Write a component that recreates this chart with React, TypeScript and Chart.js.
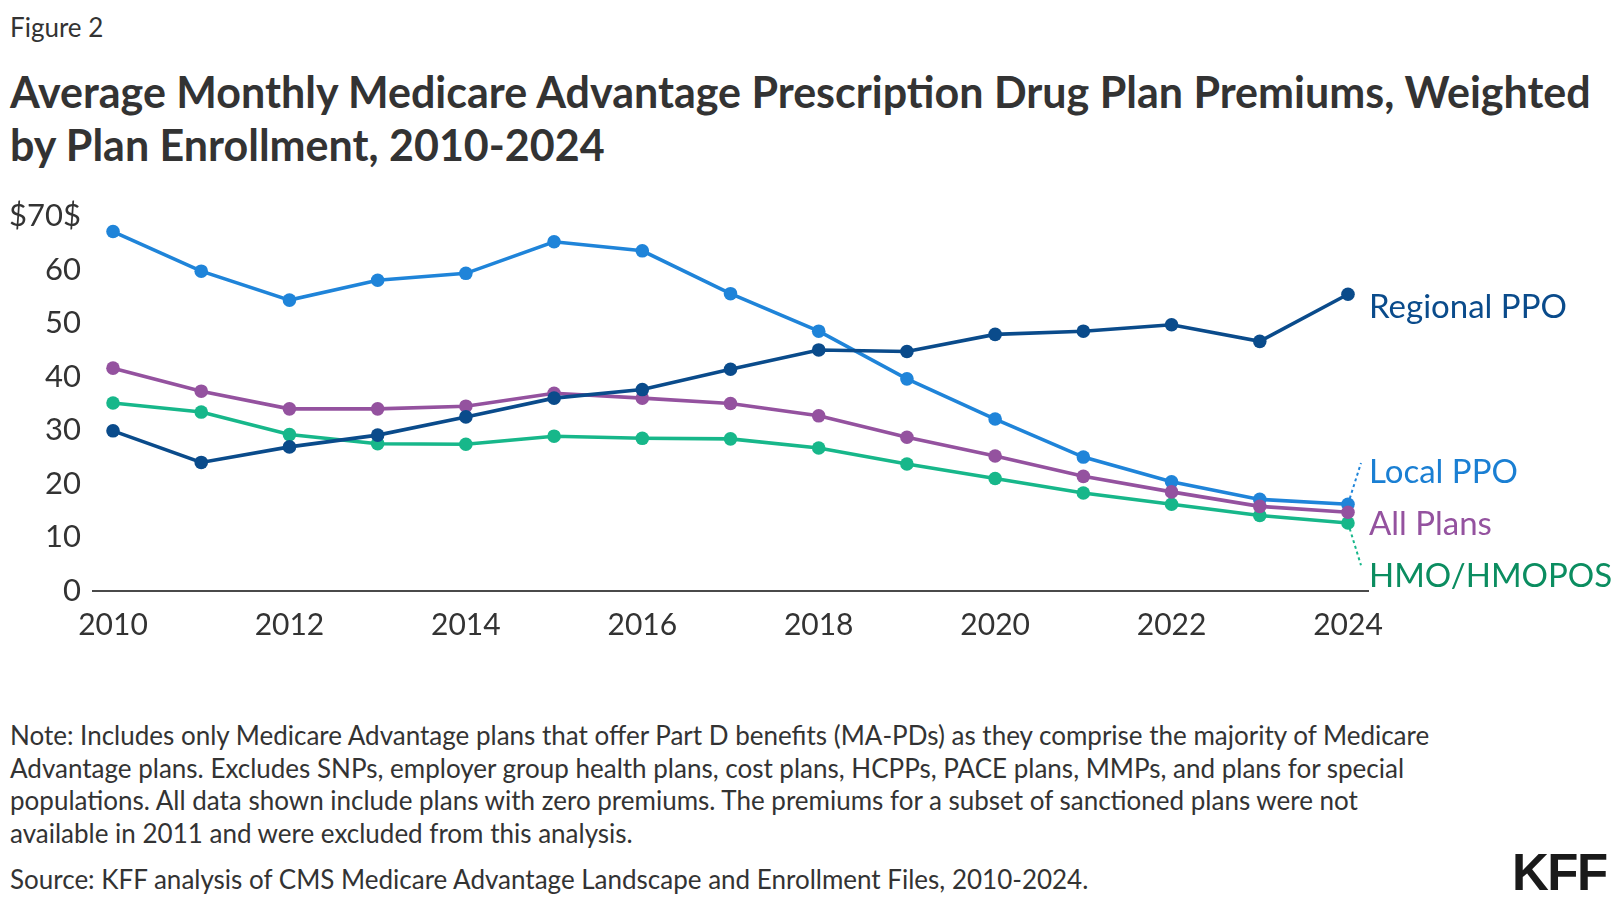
import React, { useEffect, useRef } from "react";
import { Chart, registerables } from "chart.js";

Chart.register(...registerables);

const years = [2010, 2011, 2012, 2013, 2014, 2015, 2016, 2017, 2018, 2019, 2020, 2021, 2022, 2023, 2024];
const xTickYears = [2010, 2012, 2014, 2016, 2018, 2020, 2022, 2024];
const yTickValues = [0, 10, 20, 30, 40, 50, 60, 70];
const yTickLabels = ["0", "10", "20", "30", "40", "50", "60", "$70$"];

const regionalPPO = [29.9, 24.0, 26.9, 29.1, 32.5, 36.0, 37.6, 41.4, 45.0, 44.7, 47.9, 48.5, 49.7, 46.6, 55.4];
const allPlans = [41.6, 37.3, 34.0, 34.0, 34.5, 36.9, 36.0, 35.0, 32.7, 28.7, 25.2, 21.4, 18.5, 15.8, 14.7];
const localPPO = [67.1, 59.7, 54.3, 58.0, 59.3, 65.2, 63.5, 55.5, 48.5, 39.6, 32.1, 25.0, 20.4, 17.1, 16.2];
const hmoPOS = [35.1, 33.4, 29.2, 27.5, 27.4, 28.9, 28.5, 28.4, 26.7, 23.7, 21.0, 18.3, 16.2, 14.1, 12.7];

const seriesNames = ["Regional PPO", "All Plans", "Local PPO", "HMO/HMOPOS"];
const seriesColors = ["#0a4b8b", "#94529f", "#1f84d9", "#17b78a"];
const labelColors = ["#0a4b8b", "#94529f", "#1a7fd3", "#0b8d60"];
// label anchor (data units) on the right of the plot
const labelValues = [53.0, 12.5, 22.2, 2.8];
// dotted leader end (data units), null = none
const leaderEnds: (number | null)[] = [null, null, 23.9, 4.8];

const FONT = "Lato, 'Source Sans Pro', sans-serif";
const TEXT = "#333333";

const labelPlugin = {
  id: "endLabels",
  afterDatasetsDraw(chart: any) {
    const ctx = chart.ctx;
    const xs = chart.scales.x;
    const ys = chart.scales.y;
    const lastYear = years[years.length - 1];
    const px = xs.getPixelForValue(lastYear);
    ctx.save();
    ctx.font = `33px ${FONT}`;
    ctx.textBaseline = "middle";
    ctx.textAlign = "left";
    chart.data.datasets.forEach((ds: any, i: number) => {
      const end = leaderEnds[i];
      const lastVal = ds.data[ds.data.length - 1].y;
      if (end !== null) {
        ctx.beginPath();
        ctx.setLineDash([3, 3]);
        ctx.lineWidth = 2;
        ctx.strokeStyle = seriesColors[i];
        ctx.moveTo(px, ys.getPixelForValue(lastVal));
        ctx.lineTo(px + 13, ys.getPixelForValue(end));
        ctx.stroke();
        ctx.setLineDash([]);
      }
      ctx.fillStyle = labelColors[i];
      ctx.fillText(seriesNames[i], px + 21, ys.getPixelForValue(labelValues[i]));
    });
    ctx.restore();
  },
};

function LineChart() {
  const ref = useRef<HTMLCanvasElement | null>(null);
  useEffect(() => {
    if (!ref.current) return;
    const datasets = [regionalPPO, allPlans, localPPO, hmoPOS].map((d, i) => ({
      label: seriesNames[i],
      data: d.map((v, j) => ({ x: years[j], y: v })),
      borderColor: seriesColors[i],
      backgroundColor: seriesColors[i],
      pointBackgroundColor: seriesColors[i],
      pointBorderWidth: 0,
      pointRadius: 6.8,
      borderWidth: 3.6,
      tension: 0,
      clip: false as any,
    }));
    const chart = new Chart(ref.current, {
      type: "line",
      data: { datasets },
      plugins: [labelPlugin],
      options: {
        animation: false,
        responsive: false,
        maintainAspectRatio: false,
        layout: { padding: { top: 36, right: 252, left: 0, bottom: 0 } },
        plugins: { legend: { display: false }, tooltip: { enabled: false } },
        scales: {
          x: {
            type: "linear",
            min: 2009.773,
            max: 2024.227,
            afterBuildTicks: (s: any) => {
              s.ticks = xTickYears.map((v) => ({ value: v }));
            },
            afterFit: (s: any) => {
              s.height = 69;
            },
            grid: { display: false, drawTicks: false },
            border: { display: true, color: "#4a4a4a", width: 2 },
            ticks: {
              color: TEXT,
              font: { family: FONT, size: 30 },
              padding: 16,
              maxRotation: 0,
              autoSkip: false,
              callback: (v: any) => String(v),
            },
          },
          y: {
            min: 0,
            max: 70,
            afterBuildTicks: (s: any) => {
              s.ticks = yTickValues.map((v) => ({ value: v }));
            },
            afterFit: (s: any) => {
              s.width = 93;
            },
            grid: { display: false, drawTicks: false },
            border: { display: false },
            ticks: {
              color: TEXT,
              font: { family: FONT, size: 31 },
              padding: 12,
              callback: (v: any) => yTickLabels[yTickValues.indexOf(Number(v))],
            },
          },
        },
      },
    });
    return () => chart.destroy();
  }, []);
  return <canvas ref={ref} width={1620} height={480} style={{ position: "absolute", left: 0, top: 180, width: 1620, height: 480 }} />;
}

export default function App() {
  return (
    <div style={{ position: "absolute", left: 0, top: 0, width: 1620, height: 906, background: "#fff", fontFamily: FONT, color: TEXT, overflow: "hidden" }}>
      <div style={{ position: "absolute", left: 10, top: 11, fontSize: 26, lineHeight: "32px" }}>Figure 2</div>
      <div style={{ position: "absolute", left: 10, top: 65, fontSize: 43, fontWeight: 700, lineHeight: "53px", whiteSpace: "nowrap" }}>
        Average Monthly Medicare Advantage Prescription Drug Plan Premiums, Weighted
        <br />
        by Plan Enrollment, 2010-2024
      </div>
      <LineChart />
      <div style={{ position: "absolute", left: 10, top: 719, fontSize: 26, lineHeight: "32.7px", whiteSpace: "nowrap" }}>
        Note: Includes only Medicare Advantage plans that offer Part D benefits (MA-PDs) as they comprise the majority of Medicare
        <br />
        Advantage plans. Excludes SNPs, employer group health plans, cost plans, HCPPs, PACE plans, MMPs, and plans for special
        <br />
        populations. All data shown include plans with zero premiums. The premiums for a subset of sanctioned plans were not
        <br />
        available in 2011 and were excluded from this analysis.
      </div>
      <div style={{ position: "absolute", left: 10, top: 863, fontSize: 26, lineHeight: "32px", whiteSpace: "nowrap" }}>
        Source: KFF analysis of CMS Medicare Advantage Landscape and Enrollment Files, 2010-2024.
      </div>
      <div style={{ position: "absolute", left: 1512, top: 845, fontSize: 51, fontWeight: 700, lineHeight: "56px", color: "#1a1a1a", fontFamily: "'Liberation Sans', Arial, sans-serif", letterSpacing: -1.5 }}>
        KFF
      </div>
    </div>
  );
}
